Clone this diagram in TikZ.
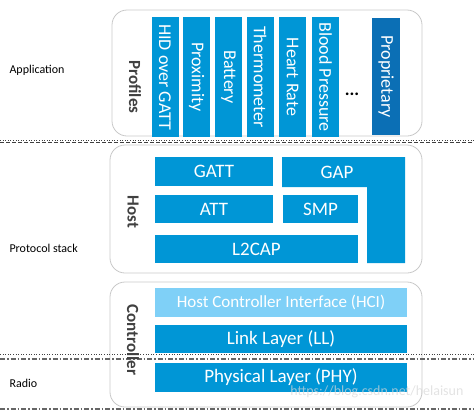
\documentclass[tikz,border=0pt]{standalone}
\usepackage{fontspec}
\setmainfont{Carlito}
\definecolor{bleblue}{RGB}{0,150,214}
\definecolor{bledark}{RGB}{11,111,181}
\definecolor{blelight}{RGB}{127,208,247}
\definecolor{boxgray}{RGB}{200,200,200}
\definecolor{labgray}{RGB}{64,64,64}
\definecolor{wmgray}{RGB}{215,215,215}
\tikzset{
  group/.style={draw=boxgray, line width=0.8pt, rounded corners=15pt},
  bar/.style={fill=bleblue, text=white, inner sep=0pt, font=\fontsize{18}{18}\selectfont, rotate=-90, minimum width=120pt, minimum height=27pt},
  blk/.style={fill=bleblue, text=white, inner sep=0pt, font=\fontsize{19}{19}\selectfont},
  side/.style={anchor=west, font=\fontsize{12}{12}\selectfont, text=black},
  grp/.style={rotate=-90, font=\bfseries\fontsize{17}{17}\selectfont, text=labgray},
}
\begin{document}
\begin{tikzpicture}[x=1pt,y=-1pt]
\useasboundingbox (0,0) rectangle (474,410);
% group boxes
\draw[group] (112,10) rectangle (422,136);
\draw[group] (110,145) rectangle (422,273);
\draw[group] (110,282) rectangle (422,407);
% separators
\draw[labgray, line width=0.6pt, dotted] (0,140) -- (474,140);
\draw[labgray, line width=1.4pt, dash pattern=on 4pt off 2pt] (0,142.5) -- (474,142.5);
\draw[labgray, line width=0.6pt, dotted] (0,354) -- (474,354);
\draw[labgray!80, line width=1.2pt, dash pattern=on 5pt off 2pt on 1.5pt off 2pt] (0,359) -- (474,359);
\draw[labgray!80, line width=1.2pt, dash pattern=on 5pt off 2pt on 1.5pt off 2pt] (0,409) -- (474,409);
% side labels
\node[side] (app) at (6,70) {Application};
\node[side] (stack) at (6,248) {Protocol stack};
\node[side] (radio) at (6,383) {Radio};
% group labels
\node[grp] (profiles) at (135,87) {Profiles};
\node[grp] (host) at (133,212) {Host};
\node[grp] (ctrl) at (133,340) {Controller};
% profiles
\node[bar] (hid) at (165,77) {HID over GATT};
\node[bar] (prox) at (196.5,77) {Proximity};
\node[bar] (batt) at (228.5,77) {Battery};
\node[bar] (thermo) at (260,77) {Thermometer};
\node[bar] (heart) at (292.5,77) {Heart Rate};
\node[bar] (blood) at (325.5,77) {Blood Pressure};
\node[font=\bfseries\fontsize{18}{18}\selectfont] (dots) at (352,94) {...};
\node[bar, fill=bledark, minimum width=117pt, minimum height=28pt] (prop) at (386,76.5) {Proprietary};
% host
\node[blk, minimum width=118pt, minimum height=29pt] (gatt) at (214,171.5) {GATT};
\fill[bleblue] (282,157) -- (405,157) -- (405,263) -- (367,263) -- (367,187) -- (282,187) -- cycle;
\node[text=white, font=\fontsize{19}{19}\selectfont] (gap) at (337,172) {GAP};
\node[blk, minimum width=118pt, minimum height=28pt] (att) at (214,209) {ATT};
\node[blk, minimum width=75pt, minimum height=28pt] (smp) at (320.5,209) {SMP};
\node[blk, minimum width=203pt, minimum height=28pt] (l2cap) at (256.5,249) {L2CAP};
% controller
\node[blk, fill=blelight, minimum width=252pt, minimum height=29pt, font=\fontsize{17}{17}\selectfont] (hci) at (281,302.5) {Host Controller Interface (HCI)};
\node[blk, minimum width=252pt, minimum height=28pt] (ll) at (281,339) {Link Layer (LL)};
\node[blk, minimum width=252pt, minimum height=29pt] (phy) at (281,377.5) {Physical Layer (PHY)};
% watermark
\node[text=wmgray, opacity=0.7, font=\fontsize{14}{14}\selectfont, anchor=east] (wm) at (467,392) {https://blog.csdn.net/helaisun};
\end{tikzpicture}
\end{document}
